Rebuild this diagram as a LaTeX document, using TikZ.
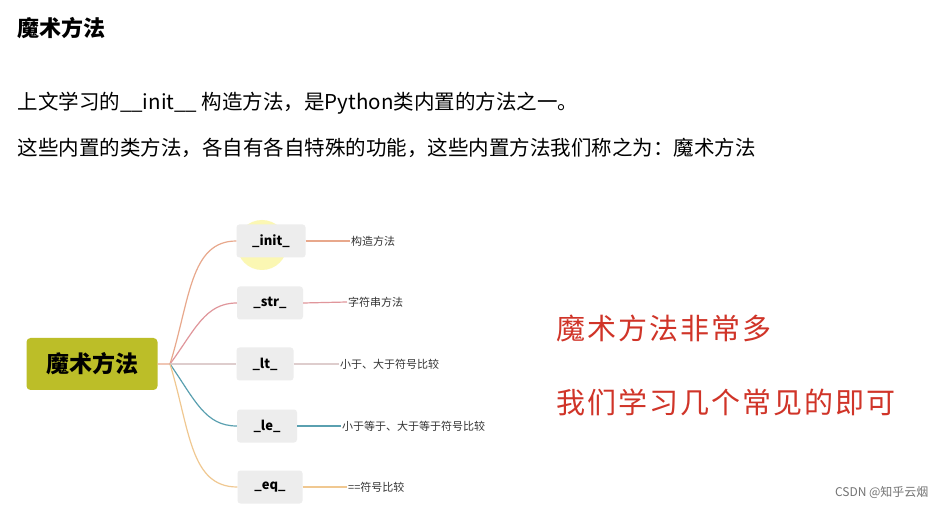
\documentclass[tikz,border=0pt]{standalone}
\usepackage{fontspec}
\setmainfont{Noto Sans CJK SC}
\begin{document}
\begin{tikzpicture}[x=1pt,y=-1pt,
  child/.style={fill=black!7,rounded corners=3pt,minimum height=33pt,inner xsep=8pt,font=\fontsize{13}{15}\selectfont\bfseries},
  lab/.style={anchor=west,inner sep=1pt,font=\fontsize{11}{13}\selectfont,text=black!80},
  br/.style={line width=1.2pt}]
\definecolor{olive}{RGB}{188,190,40}\definecolor{hl}{RGB}{250,245,160}
\definecolor{ca}{RGB}{232,168,140}\definecolor{cb}{RGB}{224,150,155}
\definecolor{cc}{RGB}{222,205,205}\definecolor{cd}{RGB}{90,160,176}\definecolor{ce}{RGB}{240,200,145}
\definecolor{rd}{RGB}{208,52,40}
\useasboundingbox (0,0) rectangle (945,510);
\fill[white] (0,0) rectangle (945,510);
\node[anchor=west,font=\fontsize{22}{26}\selectfont\bfseries] (t) at (14,28) {魔术方法};
\node[anchor=west,font=\fontsize{20.5}{24}\selectfont] (l1) at (14,103) {上文学习的\_\_init\_\_ 构造方法，是Python类内置的方法之一。};
\node[anchor=west,font=\fontsize{20.5}{24}\selectfont] (l2) at (14,148) {这些内置的类方法，各自有各自特殊的功能，这些内置方法我们称之为：魔术方法};
\node[fill=olive,rounded corners=4pt,minimum width=131pt,minimum height=52pt,font=\fontsize{23}{27}\selectfont\bfseries] (root) at (92,364) {魔术方法};
\coordinate (o) at (170,364);
\fill[hl,opacity=0.8] (262,245) circle (25);
\node[child,minimum width=69pt] (a) at (271,241) {\_init\_};
\node[child,minimum width=66pt] (b) at (270,303) {\_str\_};
\node[child,minimum width=57pt] (c) at (265,364) {\_lt\_};
\node[child,minimum width=60pt] (d) at (267,426) {\_le\_};
\node[child,minimum width=65pt] (e) at (270,487) {\_eq\_};
\node[lab] (la) at (350,241) {构造方法};
\node[lab] (lb) at (347,302) {字符串方法};
\node[lab] (lc) at (339,364) {小于、大于符号比较};
\node[lab] (ld) at (341,426) {小于等于、大于等于符号比较};
\node[lab] (le) at (347,487) {==符号比较};
\draw[br,ca] (root.east) -- (o) .. controls (190,300) and (190,241) .. (a.west);
\draw[br,cb] (o) .. controls (195,330) and (205,303) .. (b.west);
\draw[br,cc] (o) -- (c.west);
\draw[br,cd] (o) .. controls (195,400) and (205,426) .. (d.west);
\draw[br,ce] (o) .. controls (190,430) and (190,487) .. (e.west);
\draw[br,ca] (a.east) -- (la.west);
\draw[br,cb] (b.east) -- (lb.west);
\draw[br,cc] (c.east) -- (lc.west);
\draw[br,cd] (d.east) -- (ld.west);
\draw[br,ce] (e.east) -- (le.west);
\node[anchor=west,text=rd,font=\fontsize{29}{32}\selectfont] (r1) at (553,328) {魔\kern2pt 术\kern2pt 方\kern2pt 法\kern2pt 非\kern2pt 常\kern2pt 多};
\node[anchor=west,text=rd,font=\fontsize{29}{32}\selectfont] (r2) at (553,402) {我\kern2pt 们\kern2pt 学\kern2pt 习\kern2pt 几\kern2pt 个\kern2pt 常\kern2pt 见\kern2pt 的\kern2pt 即\kern2pt 可};
\node[anchor=east,text=black!55,font=\fontsize{12}{14}\selectfont] (w) at (932,492) {CSDN @知乎云烟};
\end{tikzpicture}
\end{document}
